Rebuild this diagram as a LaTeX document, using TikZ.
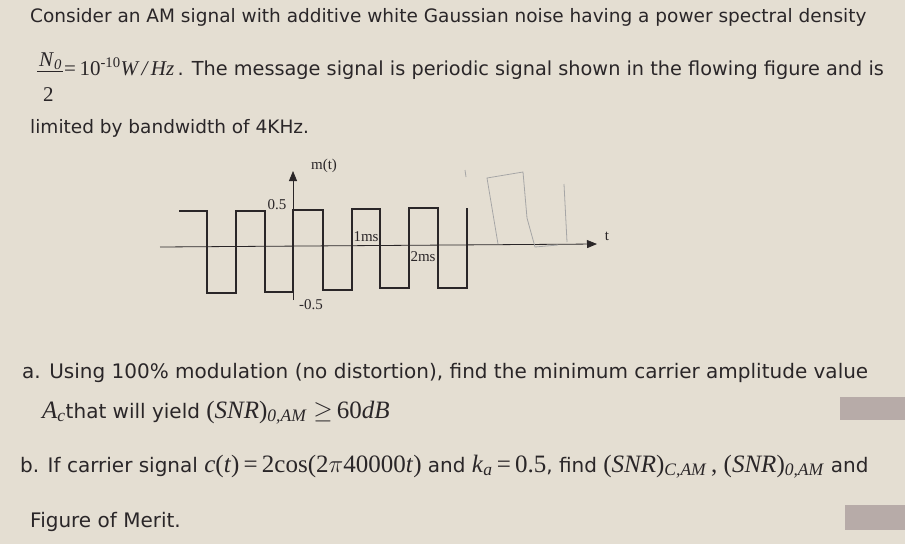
\documentclass[tikz,border=0pt]{standalone}
\usepackage{fontspec}
\setmainfont{DejaVu Sans}
\newfontfamily\tm{Liberation Serif}
\usetikzlibrary{arrows.meta}
\definecolor{paper}{HTML}{E4DED2}
\definecolor{ink}{HTML}{2A2628}
\definecolor{patch}{HTML}{B7ABA8}
\tikzset{
  txt/.style={anchor=base west,inner sep=0pt,text=ink,font=\fontsize{18.5}{20}\selectfont},
  lbl/.style={inner sep=0pt,text=ink,font=\tm\fontsize{15}{16}\selectfont},
  wave/.style={draw=ink,line width=1.5pt},
  pencil/.style={draw=gray!70,line width=0.8pt}
}
\newcommand{\mf}{\tm\fontsize{21}{22}\selectfont}
\newcommand{\mg}{\tm\fontsize{25}{26}\selectfont}
\begin{document}
\begin{tikzpicture}[x=1pt,y=-1pt]
\fill[paper] (0,0) rectangle (905,544);
\useasboundingbox (0,0) rectangle (905,544);
\fill[patch] (840,397) rectangle (905,420);
\fill[patch] (845,505) rectangle (905,530);
% text
\node[txt] (l1) at (30,22) {Consider an AM signal with additive white Gaussian noise having a power spectral density};
\node[txt,font=\mf] (num) at (39,66) {\textit{N}\textsubscript{\textit{0}}};
\draw[ink,line width=0.6pt] (37,71) -- (63,71);
\node[txt,font=\mf] (den) at (43,101) {2};
\node[txt,font=\fontsize{19.3}{20}\selectfont] (l2) at (64,75) {{\mf=\,10\textsuperscript{-10}\textit{W\,/\,Hz}}\,. The message signal is periodic signal shown in the flowing figure and is};
\node[txt] (l3) at (30,133) {limited by bandwidth of 4KHz.};
\node[txt,font=\fontsize{20}{21}\selectfont] (la) at (22,378) {a. Using 100\% modulation (no distortion), find the minimum carrier amplitude value};
\node[txt,font=\fontsize{20}{21}\selectfont] (la2) at (42,418) {{\mg\itshape A\textsubscript{c}}that will yield {\mg(\textit{SNR})\textsubscript{\textit{0,AM}} $\geq$\,60\textit{dB}}};
\node[txt,font=\fontsize{20}{21}\selectfont] (lb) at (20,472) {b. If carrier signal {\mg\textit{c}(\textit{t})\,=\,2cos(2$\pi$40000\textit{t})} and {\mg\textit{k}\textsubscript{\textit{a}}\,=\,0.5}, find {\mg(\textit{SNR})\textsubscript{\textit{C,AM}}\,,\ (\textit{SNR})\textsubscript{\textit{0,AM}}} and};
\node[txt,font=\fontsize{20}{21}\selectfont] (lf) at (30,527) {Figure of Merit.};
% diagram
\coordinate (xl) at (160,247);
\coordinate (xr) at (597,244);
\draw[draw=ink,line width=0.8pt,-{Triangle[length=10pt,width=8pt]}] (xl) -- (xr);
\coordinate (yb) at (293,300);
\coordinate (yt) at (293,171);
\draw[draw=ink,line width=0.8pt,-{Triangle[length=10pt,width=8pt]}] (yb) -- (yt);
\draw[wave] (179,211) -- (207,211) -- (207,293) -- (236,293) -- (236,211) -- (265,211) -- (265,292) -- (293,292)
  -- (293,210) -- (323,210) -- (323,290) -- (352,290) -- (352,209) -- (380,209) -- (380,288) -- (409,288)
  -- (409,208) -- (438,208) -- (438,288) -- (467,288) -- (467,208);
\node[lbl] (mt) at (324,166) {m(t)};
\node[lbl] (p5) at (277,205) {0.5};
\node[lbl] (m5) at (311,305) {-0.5};
\node[lbl] (t1) at (366,237) {1ms};
\node[lbl] (t2) at (423,257) {2ms};
\node[lbl] (tt) at (607,236) {t};
% pencil sketch
\draw[pencil] (465,170) -- (466,177);
\draw[pencil] (498,244) -- (487,178) -- (523,172) -- (527,218) -- (535,247) -- (558,245);
\draw[pencil] (564,184) -- (567,242);
\end{tikzpicture}
\end{document}
